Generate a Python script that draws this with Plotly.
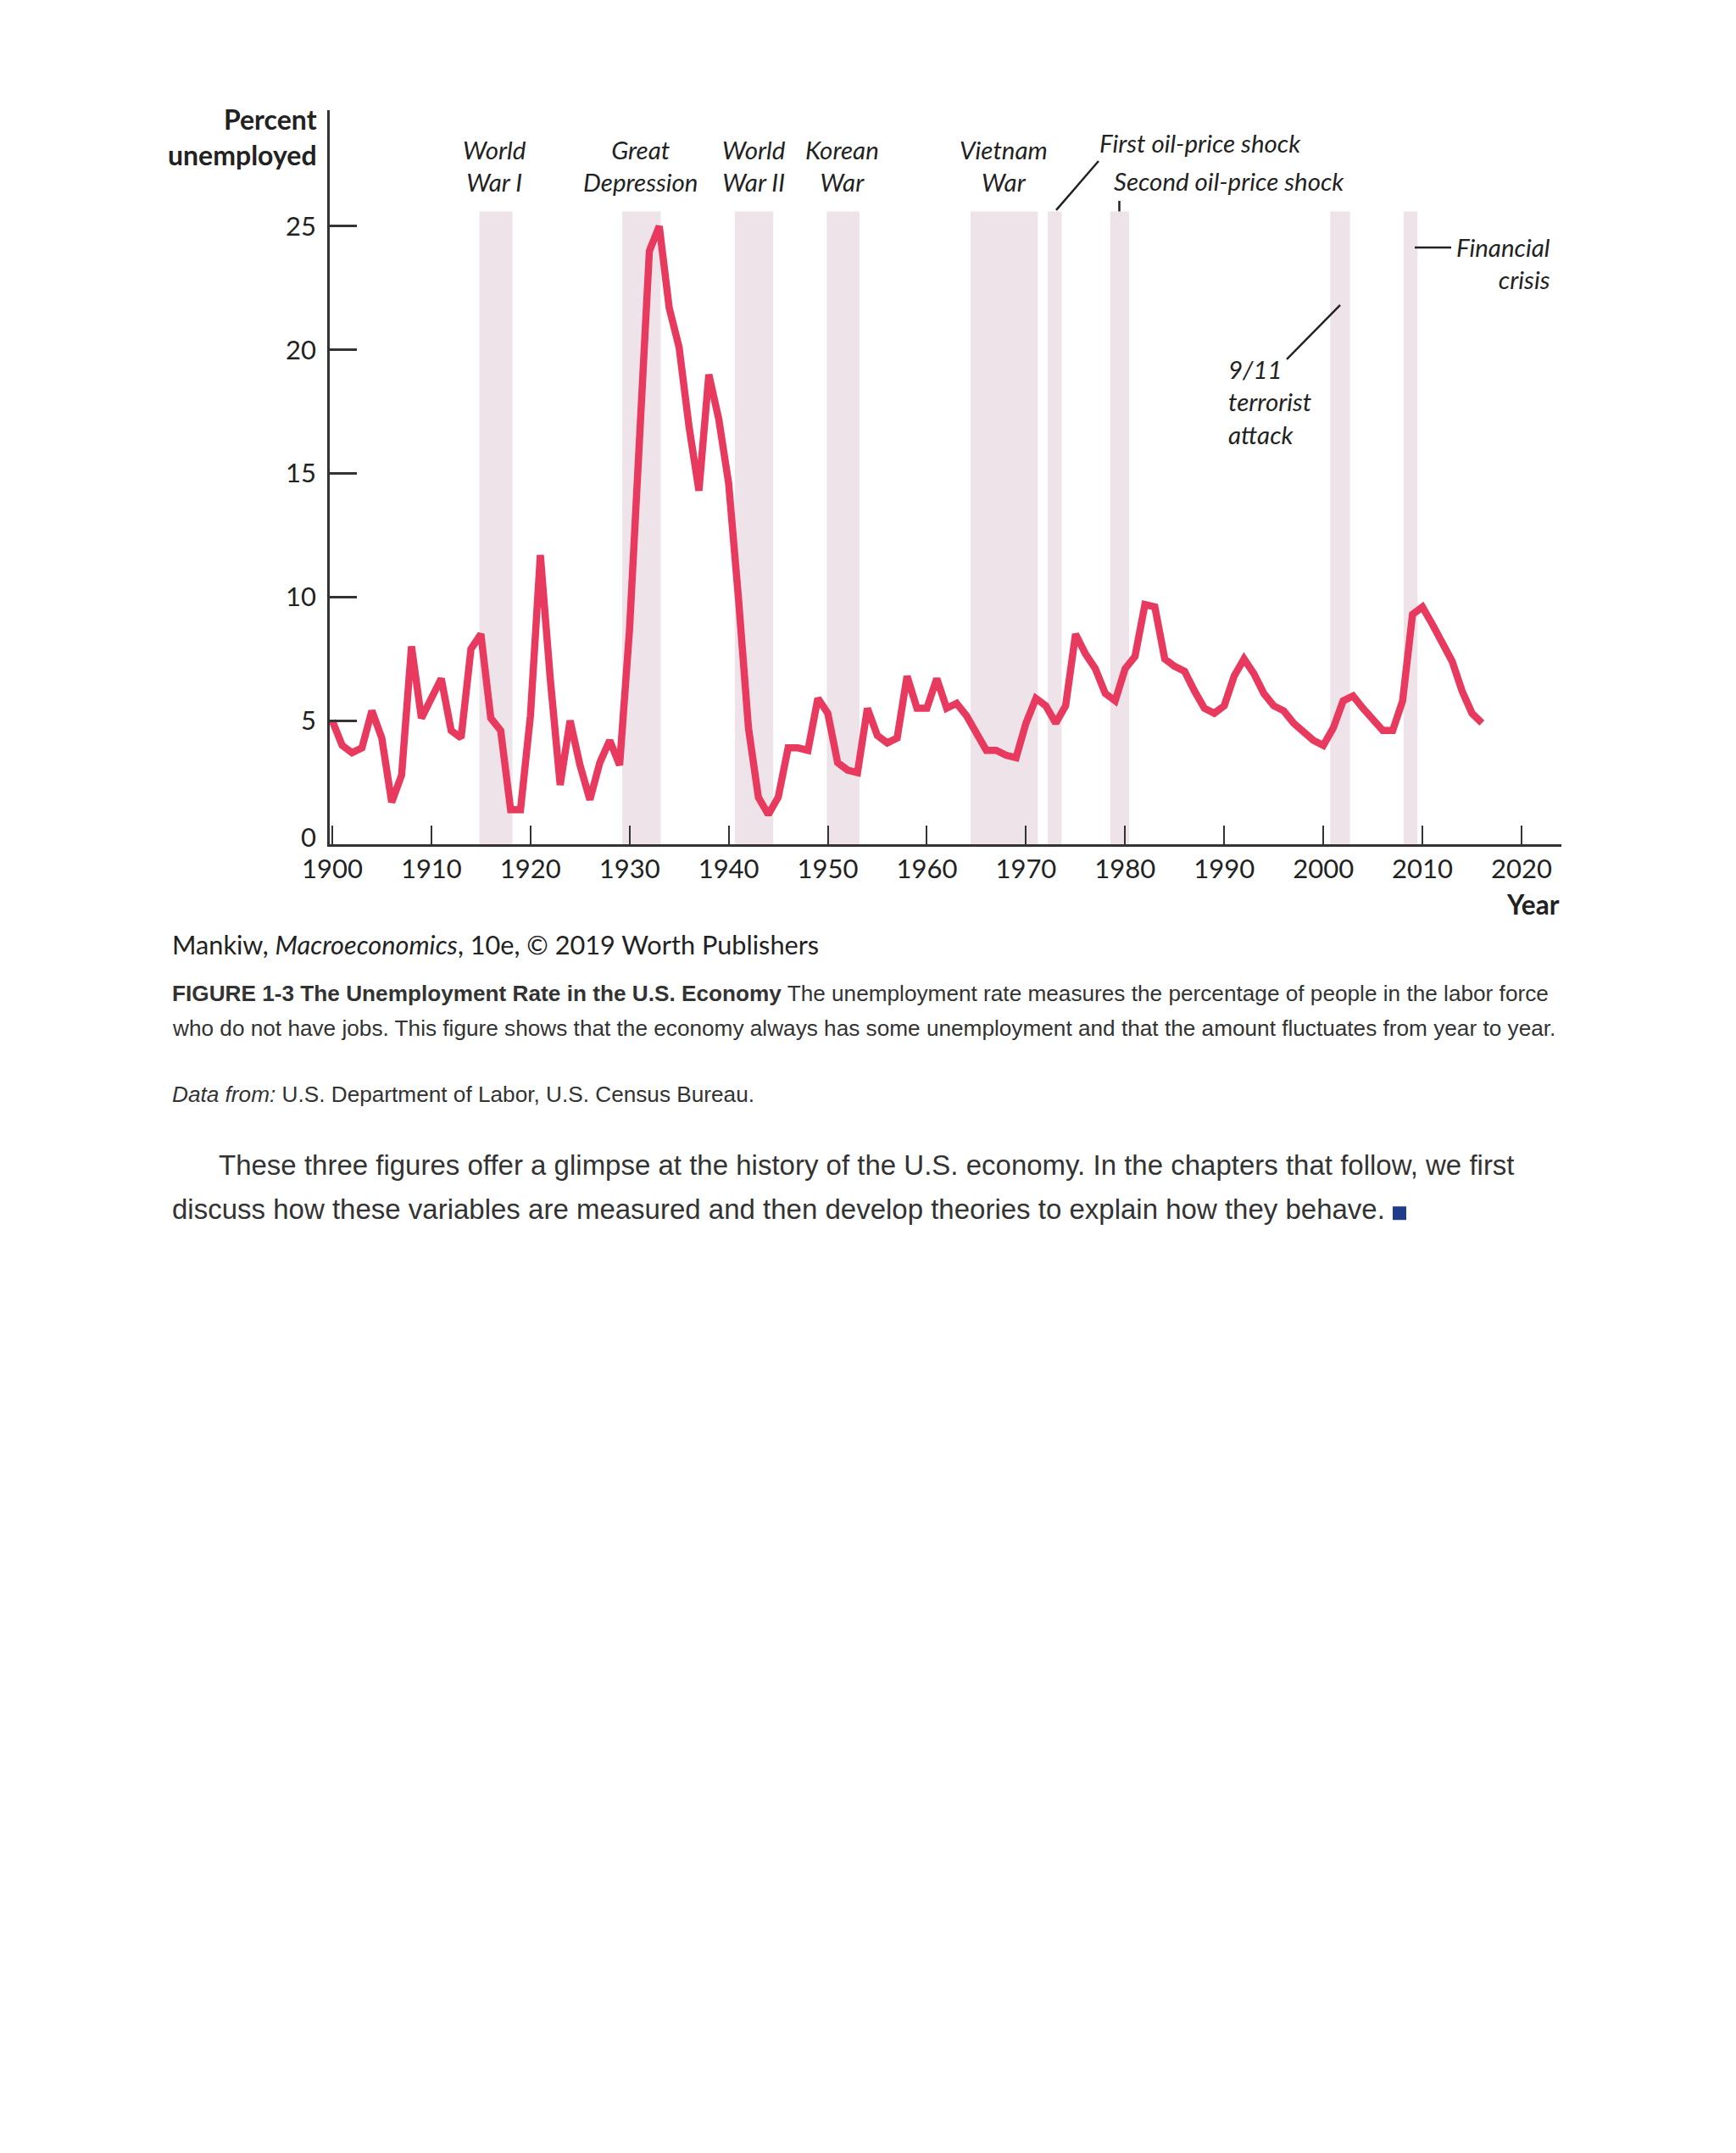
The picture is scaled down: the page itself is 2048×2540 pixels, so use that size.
import plotly.graph_objects as go

years = list(range(1900, 2017))
unemployment = [
    5.0, 4.0, 3.7, 3.9, 5.4, 4.3, 1.7, 2.8, 8.0, 5.1,   # 1900-1909
    5.9, 6.7, 4.6, 4.3, 7.9, 8.5, 5.1, 4.6, 1.4, 1.4,   # 1910-1919
    5.2, 11.7, 6.7, 2.4, 5.0, 3.2, 1.8, 3.3, 4.2, 3.2,  # 1920-1929
    8.7, 15.9, 24.0, 25.0, 21.7, 20.1, 16.9, 14.3, 19.0, 17.2,  # 1930-1939
    14.6, 9.9, 4.7, 1.9, 1.2, 1.9, 3.9, 3.9, 3.8, 5.9,  # 1940-1949
    5.3, 3.3, 3.0, 2.9, 5.5, 4.4, 4.1, 4.3, 6.8, 5.5,   # 1950-1959
    5.5, 6.7, 5.5, 5.7, 5.2, 4.5, 3.8, 3.8, 3.6, 3.5,   # 1960-1969
    4.9, 5.9, 5.6, 4.9, 5.6, 8.5, 7.7, 7.1, 6.1, 5.8,   # 1970-1979
    7.1, 7.6, 9.7, 9.6, 7.5, 7.2, 7.0, 6.2, 5.5, 5.3,   # 1980-1989
    5.6, 6.8, 7.5, 6.9, 6.1, 5.6, 5.4, 4.9, 4.5, 4.2,   # 1990-1999
    4.0, 4.7, 5.8, 6.0, 5.5, 5.1, 4.6, 4.6, 5.8, 9.3,   # 2000-2009
    9.6, 8.9, 8.1, 7.4, 6.2, 5.3, 4.9                   # 2010-2016
]

event_starts = [1914.85, 1929.26, 1940.62, 1949.9, 1964.4, 1972.2, 1978.5, 2000.7, 2008.1]
event_ends = [1918.18, 1933.14, 1944.5, 1953.2, 1971.2, 1973.6, 1980.4, 2002.7, 2009.5]

x_ticks = list(range(1900, 2030, 10))
y_ticks = [0, 5, 10, 15, 20, 25]

W, H = 2048, 2540
L, R, T, B = 389, 1842, 130, 996.5
XMIN, XMAX = 1899.75, 2024.02
YMIN, YMAX = 0, (B - T) / 29.18

def px(x):
    return (x - L) / (R - L)

def py(y):
    return (B - y) / (B - T)

LINE = "#E8395F"
SHADE = "#EEE3E9"
INK = "#222222"
SANS = "Lato, 'Open Sans', sans-serif"
ARIAL = "'Liberation Sans', Arial, sans-serif"

fig = go.Figure()
fig.add_trace(go.Scatter(x=years, y=unemployment, mode="lines",
                         line=dict(color=LINE, width=8.5), hoverinfo="skip"))

shapes = []
for s, e in zip(event_starts, event_ends):
    shapes.append(dict(type="rect", xref="x", yref="y", x0=s, x1=e, y0=0, y1=25.6,
                       fillcolor=SHADE, line=dict(width=0), layer="below"))

def seg(x0, y0, x1, y1, w=2.5):
    shapes.append(dict(type="line", xref="paper", yref="paper",
                       x0=px(x0), y0=py(y0), x1=px(x1), y1=py(y1),
                       line=dict(color=INK, width=w)))

seg(1296, 190, 1246, 248)
seg(1320.5, 237, 1320.5, 249.5)
seg(1669, 292, 1712, 292)
seg(1518, 424, 1581, 360)

shapes.append(dict(type="rect", xref="paper", yref="paper",
                   x0=px(1643), x1=px(1659), y0=py(1424), y1=py(1440),
                   fillcolor="#1F3C8C", line=dict(width=0)))

anns = []
def txt(text, x, y, xa="center", size=29.5, font=SANS, color=INK):
    anns.append(dict(text=text, xref="paper", yref="paper", x=px(x), y=py(y),
                     xanchor=xa, yanchor="middle", showarrow=False,
                     align=xa if xa != "center" else "center",
                     font=dict(family=font, size=size, color=color)))

txt("<b>Percent</b><br><b>unemployed</b>", 376, 162, xa="right", size=32)
txt("<i>World</i><br><i>War I</i>", 583, 196)
txt("<i>Great</i><br><i>Depression</i>", 755, 196)
txt("<i>World</i><br><i>War II</i>", 889.5, 196)
txt("<i>Korean</i><br><i>War</i>", 993, 196)
txt("<i>Vietnam</i><br><i>War</i>", 1184, 196)
txt("<i>First oil-price shock</i>", 1294.5, 168.5, xa="left")
txt("<i>Second oil-price shock</i>", 1312, 214, xa="left")
txt("<i>Financial</i><br><i>crisis</i>", 1831, 311, xa="right")
txt("<i>9/11</i><br><i>terrorist</i><br><i>attack</i>", 1447, 474, xa="left")
txt("<b>Year</b>", 1842, 1068, xa="right", size=31.5)
txt("0", 375, 987, xa="right", size=31)

txt("Mankiw, <i>Macroeconomics</i>, 10e, © 2019 Worth Publishers", 201, 1115, xa="left", size=30.7)
txt("<b>FIGURE 1-3 The Unemployment Rate in the U.S. Economy</b> The unemployment rate measures the percentage of people in the labor force",
    201, 1173, xa="left", size=26.2, font=ARIAL, color="#333333")
txt("who do not have jobs. This figure shows that the economy always has some unemployment and that the amount fluctuates from year to year.",
    201, 1213.5, xa="left", size=26.2, font=ARIAL, color="#333333")
txt("<i>Data from:</i> U.S. Department of Labor, U.S. Census Bureau.", 201, 1291.5, xa="left", size=26.2,
    font=ARIAL, color="#333333")
txt("These three figures offer a glimpse at the history of the U.S. economy. In the chapters that follow, we first",
    256, 1375.5, xa="left", size=33, font=ARIAL, color="#333333")
txt("discuss how these variables are measured and then develop theories to explain how they behave.",
    201, 1427.5, xa="left", size=33, font=ARIAL, color="#333333")

fig.update_layout(
    width=W, height=H,
    margin=dict(l=L, r=W - R, t=T, b=H - B, pad=0),
    paper_bgcolor="white", plot_bgcolor="white",
    showlegend=False,
    shapes=shapes, annotations=anns,
    xaxis=dict(range=[XMIN, XMAX], tickvals=x_ticks, ticktext=[str(v) for v in x_ticks],
               showgrid=False, zeroline=False, showline=True, linecolor="#333333", linewidth=2.5,
               ticks="inside", ticklen=22, tickwidth=2, tickcolor="#333333",
               tickfont=dict(family=SANS, size=31, color=INK)),
    yaxis=dict(range=[YMIN, YMAX], tickvals=y_ticks, ticktext=["" if v == 0 else str(v) for v in y_ticks],
               showgrid=False, zeroline=False, showline=True, linecolor="#333333", linewidth=2.5,
               ticks="inside", ticklen=32, tickwidth=2.5, tickcolor="#333333",
               ticklabelstandoff=7,
               tickfont=dict(family=SANS, size=31, color=INK)),
)

fig.write_html("out.html", config={"displayModeBar": False},
               post_script="document.body.style.margin='0';")
